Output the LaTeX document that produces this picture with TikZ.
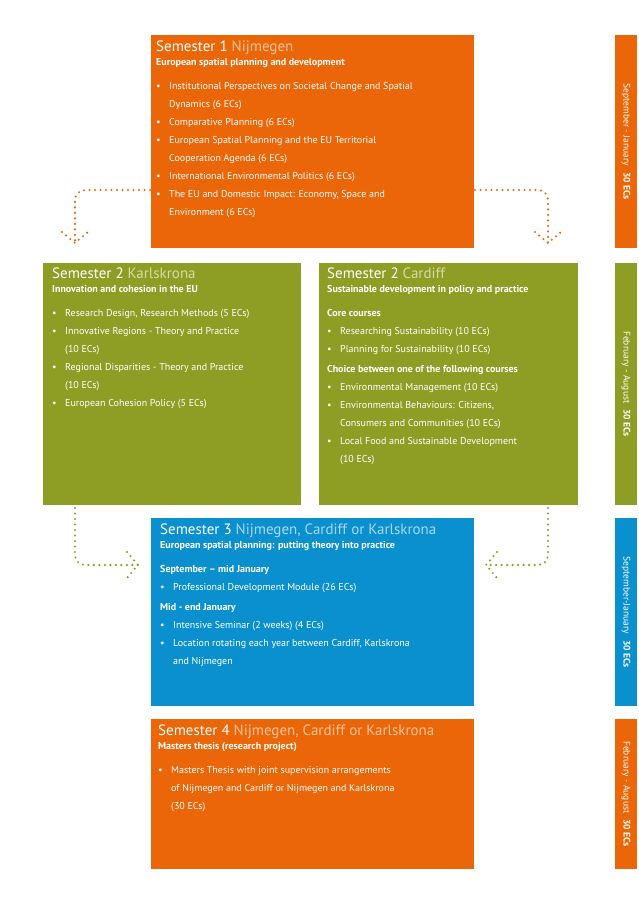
\documentclass[tikz,border=0pt]{standalone}
\usepackage{fontspec}
\setmainfont{PT Sans}
\usetikzlibrary{calc}
\begin{document}
\begin{tikzpicture}[x=1pt,y=-1pt,
  txt/.style={anchor=north west,inner sep=0,align=left,text=white,font=\fontsize{10}{18}\selectfont},
  side/.style={rotate=-90,text=white,font=\fontsize{9.5}{11}\selectfont},
  dots/.style={line width=2.3pt,dash pattern=on 0pt off 5.5pt,line cap=round,rounded corners=10pt}]
\definecolor{orng}{HTML}{EB6608}
\definecolor{grn}{HTML}{8E9E25}
\definecolor{blu}{HTML}{0A90CF}
\definecolor{porng}{HTML}{F9C49C}
\definecolor{pgrn}{HTML}{D5DBA8}
\definecolor{pblu}{HTML}{A8D8F0}
\newcommand{\bl}{\makebox[13pt][l]{\textbullet}}
\newcommand{\ct}{\hspace*{13pt}}
\useasboundingbox (0,0) rectangle (638,905);
\fill[white] (0,0) rectangle (638,905);
% boxes
\fill[orng] (151,35) rectangle (474,248);
\fill[grn] (43,263) rectangle (301,505);
\fill[grn] (319,263) rectangle (578,505);
\fill[blu] (151,518) rectangle (474,706);
\fill[orng] (151,719) rectangle (474,869);
% side bars
\fill[orng] (615,35) rectangle (637,248);
\fill[grn] (615,263) rectangle (637,505);
\fill[blu] (615,518) rectangle (637,706);
\fill[orng] (615,719) rectangle (637,869);
\node[side] (b1) at (626,141.5) {September - January\hspace{6pt}\textbf{30 ECs}};
\node[side] (b2) at (626,384) {February - August\hspace{6pt}\textbf{30 ECs}};
\node[side] (b3) at (626,612) {September-January\hspace{6pt}\textbf{30 ECs}};
\node[side] (b4) at (626,794) {February - August\hspace{6pt}\textbf{30 ECs}};
% S1
\node[txt] (t1) at (156,41) {{\fontsize{15}{18}\selectfont Semester 1\ \textcolor{porng}{Nijmegen}}\\[-4pt]
{\bfseries European spatial planning and development}\\[6pt]
\bl Institutional Perspectives on Societal Change and Spatial\\
\ct Dynamics (6 ECs)\\
\bl Comparative Planning (6 ECs)\\
\bl European Spatial Planning and the EU Territorial\\
\ct Cooperation Agenda (6 ECs)\\
\bl International Environmental Politics (6 ECs)\\
\bl The EU and Domestic Impact: Economy, Space and\\
\ct Environment (6 ECs)};
% S2 K
\node[txt] (t2) at (52,268) {{\fontsize{15}{18}\selectfont Semester 2\ \textcolor{pgrn}{Karlskrona}}\\[-4pt]
{\bfseries Innovation and cohesion in the EU}\\[6pt]
\bl Research Design, Research Methods (5 ECs)\\
\bl Innovative Regions - Theory and Practice\\
\ct (10 ECs)\\
\bl Regional Disparities - Theory and Practice\\
\ct (10 ECs)\\
\bl European Cohesion Policy (5 ECs)};
% S2 C
\node[txt] (t3) at (327,268) {{\fontsize{15}{18}\selectfont Semester 2\ \textcolor{pgrn}{Cardiff}}\\[-4pt]
{\bfseries Sustainable development in policy and practice}\\[6pt]
{\bfseries Core courses}\\
\bl Researching Sustainability (10 ECs)\\
\bl Planning for Sustainability (10 ECs)\\[2pt]
{\bfseries Choice between one of the following courses}\\
\bl Environmental Management (10 ECs)\\
\bl Environmental Behaviours: Citizens,\\
\ct Consumers and Communities (10 ECs)\\
\bl Local Food and Sustainable Development\\
\ct (10 ECs)};
% S3
\node[txt] (t4) at (160,524) {{\fontsize{15}{18}\selectfont Semester 3\ \textcolor{pblu}{Nijmegen, Cardiff or Karlskrona}}\\[-4pt]
{\bfseries European spatial planning: putting theory into practice}\\[6pt]
{\bfseries September -- mid January}\\
\bl Professional Development Module (26 ECs)\\[2pt]
{\bfseries Mid - end January}\\
\bl Intensive Seminar (2 weeks) (4 ECs)\\
\bl Location rotating each year between Cardiff, Karlskrona\\
\ct and Nijmegen};
% S4
\node[txt] (t5) at (158,725) {{\fontsize{15}{18}\selectfont Semester 4\ \textcolor{porng}{Nijmegen, Cardiff or Karlskrona}}\\[-4pt]
{\bfseries Masters thesis (research project)}\\[6pt]
\bl Masters Thesis with joint supervision arrangements\\
\ct of Nijmegen and Cardiff or Nijmegen and Karlskrona\\
\ct (30 ECs)};
% arrows
\coordinate (a1s) at (150,190); \coordinate (a1e) at (75,243);
\coordinate (a2s) at (475,190); \coordinate (a2e) at (548,243);
\coordinate (a3s) at (75,508); \coordinate (a3e) at (138,565);
\coordinate (a4s) at (548,508); \coordinate (a4e) at (486,565);
\draw[dots,orng] (a1s) -- (75,190) -- (a1e);
\draw[dots,orng] (a2s) -- (548,190) -- (a2e);
\draw[dots,grn] (a3s) -- (75,565) -- (a3e);
\draw[dots,grn] (a4s) -- (548,565) -- (a4e);
\draw[dots,orng,rounded corners=0] ($(a1e)+(-13,-11)$) -- (a1e) -- ($(a1e)+(13,-11)$);
\draw[dots,orng,rounded corners=0] ($(a2e)+(-13,-11)$) -- (a2e) -- ($(a2e)+(13,-11)$);
\draw[dots,grn,rounded corners=0] ($(a3e)+(-11,-13)$) -- (a3e) -- ($(a3e)+(-11,13)$);
\draw[dots,grn,rounded corners=0] ($(a4e)+(11,-13)$) -- (a4e) -- ($(a4e)+(11,13)$);
\end{tikzpicture}
\end{document}
